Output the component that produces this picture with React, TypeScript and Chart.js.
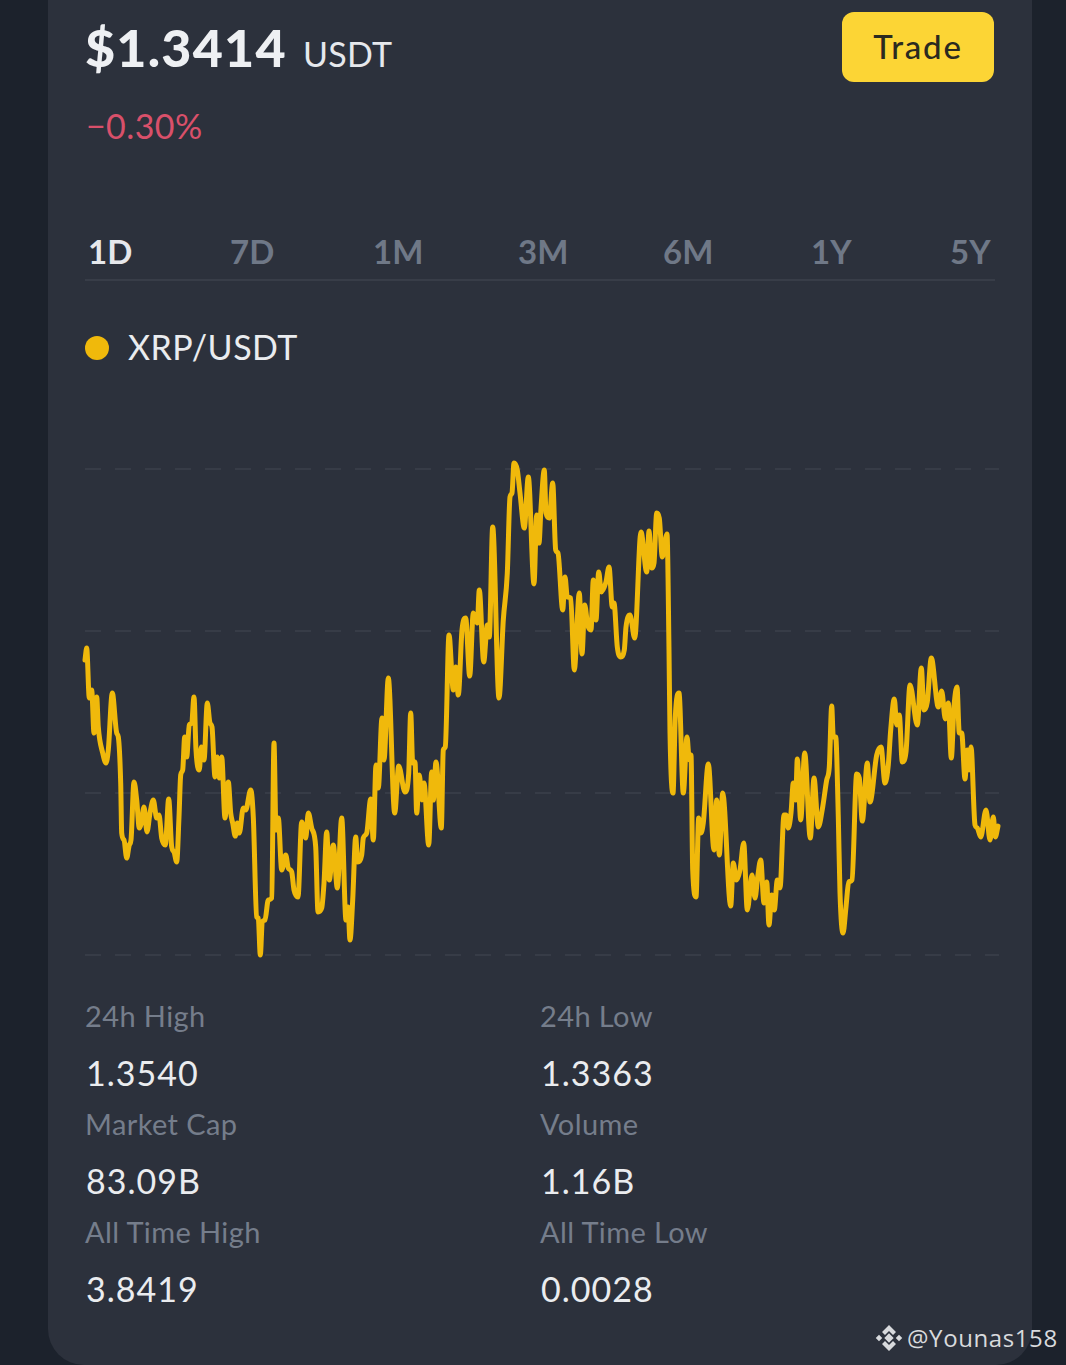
import React, { useEffect, useRef } from "react";
import { Chart, registerables } from "chart.js";

Chart.register(...registerables);

const elapsed = [
  0, 1.7, 4.3, 6.7, 9, 11.7, 13.3, 17.7, 21, 23.3, 27.3, 31.7, 33.3, 35.7, 36.7, 39, 41.7, 44.3, 46, 49,
  51.7, 54.3, 56.3, 59, 62, 65, 68.3, 71.7, 74, 76.7, 80.3, 83.7, 86.7, 89, 91.7, 94, 95.7, 97.7, 99.7, 101.7,
  104.3, 106.7, 109, 111, 114.3, 116.3, 119, 122.3, 125, 127, 130, 132.3, 134.3, 136.7, 140, 143.3, 145.7, 147.7, 150.3, 152.3,
  154.3, 158.3, 160.7, 165.7, 168.3, 171.7, 173.3, 175.3, 177.3, 180, 183.3, 186.7, 189, 191, 193.3, 196.7, 200.7, 203.3, 206.7, 209,
  213, 216.7, 220.7, 223.3, 226.7, 230.7, 233, 236.7, 239, 241.7, 244.3, 248.3, 252.3, 256.7, 261, 263, 265, 267.7, 270.7, 272.7,
  276.7, 278.3, 281.7, 285.7, 288.3, 291, 293.3, 297, 299, 303.3, 309.7, 313.7, 320, 323.7, 325.7, 327.7, 330, 331.7, 334.3, 337,
  339, 343.7, 346.7, 348.3, 351, 356.3, 358.3, 360.3, 364, 368.3, 370.7, 373.3, 377, 380.7, 384.7, 388.3, 392.3, 394.3, 398.7, 402.3,
  404.3, 407.7, 414, 418.3, 422.3, 425, 427, 429, 432.3, 435, 439.3, 443.3, 449, 451.7, 454, 456, 459.3, 461, 464.3, 467.7,
  470.7, 473, 477.7, 480, 482.3, 485.7, 489.3, 494.3, 497, 499.7, 502.7, 506, 508.3, 511, 513.7, 516.3, 521, 524, 527.3, 529,
  532.3, 535.7, 539.3, 541, 545, 549.7, 556, 561.7, 564, 566.7, 569, 571.7, 574.3, 577.3, 582, 584, 585, 588, 590.3, 594,
  598.3, 602, 604.3, 606, 607.7, 611, 613.7, 615.7, 618.3, 623.3, 629, 631.7, 634.3, 637.7, 645.7, 648.3, 651.3, 655, 658.7, 662.3,
  667, 670, 672.7, 675.7, 679, 681.7, 684, 686.7, 689.3, 692.3, 695, 699, 701, 703.3, 706, 708.3, 710.7, 712.3, 715.7, 719.7,
  725.3, 729, 733.3, 737.7, 741.7, 744.3, 746.7, 748.3, 750.7, 753.3, 755, 758, 761, 763.7, 767, 771.7, 774.3, 777.3, 782.3, 785,
  791.7, 796, 800, 803.3, 805.7, 809.3, 811.7, 814.3, 817.3, 821, 825, 832.3, 836.3, 839, 842.3, 846.3, 853.3, 856.7, 860.3, 863.3,
  866.3, 869, 872, 874.3, 876.7, 880, 882.3, 884, 886, 890, 892.3, 895.7, 901, 905, 908.3, 910.3, 913,
];

const prices = [
  1.34692, 1.34735, 1.34555, 1.34584, 1.34429, 1.34559, 1.34451, 1.34357, 1.34321, 1.34368, 1.34573, 1.34429, 1.34415, 1.34249, 1.34069, 1.34044, 1.33979, 1.34026, 1.34044, 1.34253,
  1.34188, 1.34087, 1.34105, 1.34163, 1.34073, 1.34141, 1.34188, 1.34123, 1.34134, 1.34051, 1.34026, 1.34192, 1.34019, 1.34001, 1.33965, 1.34127, 1.34278, 1.34296, 1.34415, 1.34343,
  1.34458, 1.34465, 1.34559, 1.34368, 1.34296, 1.34379, 1.34332, 1.34537, 1.34465, 1.34451, 1.34271, 1.34343, 1.34267, 1.34343, 1.34123, 1.34253, 1.34141, 1.34105, 1.34058, 1.34105,
  1.34069, 1.34159, 1.34152, 1.34224, 1.34127, 1.33767, 1.33763, 1.3363, 1.33749, 1.33756, 1.33828, 1.33835, 1.34393, 1.3408, 1.34123, 1.33936, 1.3399, 1.33943, 1.33929, 1.33864,
  1.33839, 1.34109, 1.34051, 1.34141, 1.34087, 1.34019, 1.33785, 1.33799, 1.33889, 1.34073, 1.339, 1.34026, 1.33871, 1.34123, 1.33756, 1.33803, 1.33684, 1.33828, 1.34055, 1.33965,
  1.3399, 1.34051, 1.34069, 1.34192, 1.34044, 1.34314, 1.34231, 1.34483, 1.34332, 1.34627, 1.34141, 1.3431, 1.34217, 1.34285, 1.34501, 1.34321, 1.34325, 1.34141, 1.34278, 1.34188,
  1.34249, 1.34026, 1.34289, 1.34188, 1.34325, 1.34087, 1.34368, 1.34379, 1.34782, 1.34584, 1.34667, 1.34566, 1.348, 1.34843, 1.34634, 1.34861, 1.34825, 1.34944, 1.34685, 1.34818,
  1.34775, 1.35171, 1.34555, 1.34836, 1.35005, 1.35279, 1.35293, 1.35401, 1.35376, 1.35293, 1.35167, 1.35351, 1.34966, 1.35214, 1.35113, 1.35239, 1.35376, 1.35221, 1.35203, 1.35329,
  1.35088, 1.35077, 1.34872, 1.34991, 1.34919, 1.34915, 1.34656, 1.34933, 1.34714, 1.3489, 1.34818, 1.348, 1.3498, 1.34836, 1.35009, 1.34937, 1.34973, 1.35027, 1.34883, 1.34897,
  1.34739, 1.34703, 1.34728, 1.34811, 1.34854, 1.34771, 1.35153, 1.35009, 1.35156, 1.35023, 1.35041, 1.35221, 1.35203, 1.35063, 1.35146, 1.34728, 1.34429, 1.34213, 1.34487, 1.34573,
  1.34213, 1.34415, 1.34332, 1.3435, 1.33936, 1.33839, 1.34123, 1.34069, 1.34105, 1.34318, 1.34008, 1.34188, 1.3399, 1.34213, 1.33806, 1.33961, 1.339, 1.33936, 1.34033, 1.33792,
  1.33918, 1.33835, 1.33911, 1.33972, 1.33817, 1.33893, 1.33738, 1.33846, 1.33792, 1.339, 1.33871, 1.34134, 1.34134, 1.34087, 1.34141, 1.34249, 1.34188, 1.34336, 1.34116, 1.34357,
  1.34051, 1.34267, 1.34091, 1.34163, 1.3426, 1.34307, 1.34526, 1.34415, 1.34415, 1.34127, 1.33853, 1.33709, 1.33803, 1.33893, 1.339, 1.34282, 1.34267, 1.34112, 1.34321, 1.34181,
  1.3435, 1.34379, 1.34249, 1.34314, 1.3444, 1.34552, 1.34458, 1.34494, 1.34325, 1.34361, 1.34602, 1.34458, 1.34663, 1.34512, 1.34541, 1.34699, 1.34523, 1.3458, 1.3448, 1.34537,
  1.34339, 1.34523, 1.34595, 1.34429, 1.34429, 1.34264, 1.34368, 1.34296, 1.34379, 1.34098, 1.34087, 1.34055, 1.34152, 1.34044, 1.34127, 1.34055, 1.34094,
];

const gridPrices = [1.3363, 1.342132, 1.347964, 1.353796];
const periods = ["1D", "7D", "1M", "3M", "6M", "1Y", "5Y"];
const periodLeft = [88, 230, 373, 518, 663, 811, 950];
const statLabels = ["24h High", "24h Low", "Market Cap", "Volume", "All Time High", "All Time Low"];
const statValues = ["1.3540", "1.3363", "83.09B", "1.16B", "3.8419", "0.0028"];

const FONT = "Lato, 'Open Sans', sans-serif";

function T(p: { x: number; cy: number; size: number; color: string; weight?: number; font?: string; children: React.ReactNode; spacing?: number }) {
  return (
    <div
      style={{
        position: "absolute",
        left: p.x,
        top: p.cy - 40,
        height: 80,
        lineHeight: "80px",
        fontSize: p.size,
        color: p.color,
        fontWeight: p.weight ?? 400,
        fontFamily: p.font ?? FONT,
        letterSpacing: p.spacing ?? 0,
        whiteSpace: "nowrap",
      }}
    >
      {p.children}
    </div>
  );
}

export default function App() {
  const ref = useRef<HTMLCanvasElement>(null);

  useEffect(() => {
    const chart = new Chart(ref.current!, {
      type: "line",
      data: {
        datasets: [
          {
            label: "XRP/USDT",
            data: elapsed.map((x, i) => ({ x, y: prices[i] })),
            borderColor: "#f0b90b",
            borderWidth: 5,
            pointRadius: 0,
            cubicInterpolationMode: "monotone",
            borderJoinStyle: "round",
            borderCapStyle: "round",
            clip: false,
            fill: false,
          },
        ],
      },
      options: {
        animation: false,
        responsive: false,
        devicePixelRatio: 1,
        layout: { padding: { left: 5, right: 6, top: 29, bottom: 15 } },
        plugins: { legend: { display: false }, tooltip: { enabled: false } },
        scales: {
          x: { type: "linear", min: 0, max: 914, display: false },
          y: {
            type: "linear",
            min: gridPrices[0],
            max: gridPrices[3],
            afterBuildTicks: (axis: any) => {
              axis.ticks = gridPrices.map((value) => ({ value }));
            },
            ticks: { display: false },
            grid: { color: "#373c47", lineWidth: 2, drawTicks: false, tickLength: 0 },
            border: { display: false, dash: [16, 14] },
          },
        },
      },
    } as any);
    return () => chart.destroy();
  }, []);

  return (
    <div style={{ position: "absolute", left: 0, top: 0, width: 1066, height: 1365, overflow: "hidden", background: "#1c222c" }}>
      <div style={{ position: "absolute", left: 48, top: -60, width: 984, height: 1425, background: "#2c313c", borderRadius: 36 }} />

      <T x={85} cy={47} size={52} color="#eef0f3" weight={900} spacing={1.2}>$1.3414</T>
      <T x={303} cy={54} size={34} color="#e6e8ec" spacing={0.3}>USDT</T>
      <T x={86} cy={126} size={34} color="#d9506a" spacing={0.4}>−0.30%</T>

      <div
        style={{
          position: "absolute", left: 842, top: 12, width: 152, height: 70, borderRadius: 12,
          background: "#fcd535", color: "#2a2a20", fontFamily: FONT, fontSize: 33, fontWeight: 500,
          lineHeight: "69px", textAlign: "center", letterSpacing: 1.8,
        }}
      >
        Trade
      </div>

      {periods.map((p, i) => (
        <T key={p} x={periodLeft[i]} cy={251} size={33} weight={700} color={i === 0 ? "#e6e8ec" : "#6f7887"}>{p}</T>
      ))}
      <div style={{ position: "absolute", left: 85, top: 279, width: 910, height: 2, background: "#383d48" }} />

      <div style={{ position: "absolute", left: 85, top: 336, width: 24, height: 24, borderRadius: 12, background: "#f0b90b" }} />
      <T x={128} cy={347} size={34} color="#eaecef" spacing={0.5}>XRP/USDT</T>

      <canvas ref={ref} width={925} height={530} style={{ position: "absolute", left: 80, top: 440, width: 925, height: 530 }} />

      {statLabels.map((s, i) => (
        <T key={s} x={i % 2 === 0 ? 85 : 540} cy={1016 + 108 * Math.floor(i / 2)} size={29} color="#757d8b" spacing={0.4}>{s}</T>
      ))}
      {statValues.map((s, i) => (
        <T key={s} x={i % 2 === 0 ? 86 : 541} cy={1073 + 108 * Math.floor(i / 2)} size={34} color="#eaecef" spacing={1}>{s}</T>
      ))}

      <svg style={{ position: "absolute", left: 875, top: 1324 }} width={28} height={28} viewBox="0 0 28 28">
        <g fill="#d8dadd">
          <path d="M14 1 L21 8 L18 11 L14 7 L10 11 L7 8 Z" />
          <path d="M14 27 L21 20 L18 17 L14 21 L10 17 L7 20 Z" />
          <rect x="10.7" y="10.7" width="6.6" height="6.6" transform="rotate(45 14 14)" />
          <rect x="1.7" y="11.7" width="4.6" height="4.6" transform="rotate(45 4 14)" />
          <rect x="21.7" y="11.7" width="4.6" height="4.6" transform="rotate(45 24 14)" />
        </g>
      </svg>
      <T x={907} cy={1338} size={24} color="#d8dadd" font="'Open Sans', sans-serif" spacing={0.6}>@Younas158</T>
    </div>
  );
}
